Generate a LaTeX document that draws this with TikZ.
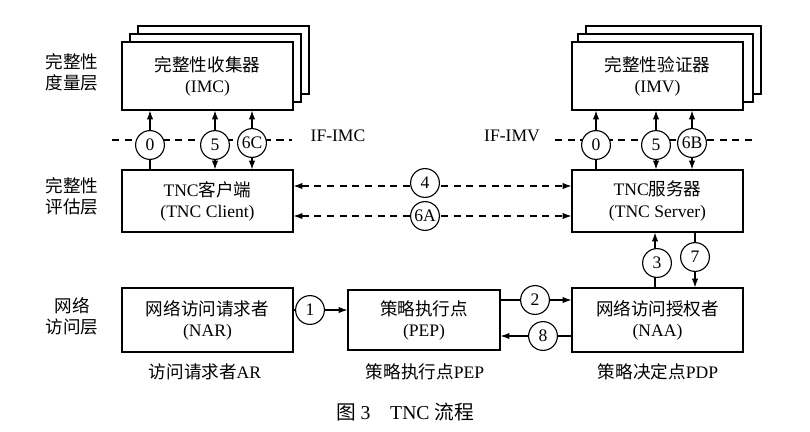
\documentclass[tikz,border=0pt]{standalone}
\usepackage{fontspec}
\setmainfont{Liberation Serif}
\newfontfamily\cjk{Noto Sans CJK SC}
\usetikzlibrary{arrows.meta}
\begin{document}
\begin{tikzpicture}[x=0.25mm,y=-0.25mm,font=\fontsize{12.5}{15}\selectfont,
 box/.style={draw,thick,fill=white,minimum width=42.75mm,minimum height=16mm,align=center,inner sep=1pt},
 sbox/.style={draw,thick,fill=white,minimum width=38mm,minimum height=15mm,align=center,inner sep=1pt},
 num/.style={draw,thick,circle,fill=white,inner sep=1pt,minimum size=7.2mm},
 lay/.style={align=center,font=\cjk\fontsize{12.5}{15}\selectfont},
 arr/.style={thick,-{Latex[length=2.2mm,width=1.6mm]}},
 darr/.style={thick,{Latex[length=2.2mm,width=1.6mm]}-{Latex[length=2.2mm,width=1.6mm]}},
 ds/.style={dash pattern=on 5pt off 4pt},
 ddarr/.style={darr,ds}]
\useasboundingbox (0,0) rectangle (810,431);
% layer labels
\node[lay] (l1) at (72,72) {完整性\\度量层};
\node[lay] (l2) at (72,196) {完整性\\评估层};
\node[lay] (l3) at (72,316) {网络\\访问层};
% stacked boxes
\foreach \d in {16,8}{
 \draw[thick,fill=white] (122+\d,42-\d) rectangle (293+\d,110-\d);
 \draw[thick,fill=white] (570+\d,42-\d) rectangle (745+\d,110-\d);}
\node[box,minimum height=17mm] (imc) at (207.5,76) {{\cjk 完整性收集器}\\(IMC)};
\node[box,minimum height=17mm] (imv) at (657.5,76) {{\cjk 完整性验证器}\\(IMV)};
\node[box,minimum height=15.5mm] (cli) at (207.5,201) {TNC{\cjk 客户端}\\(TNC Client)};
\node[box,minimum height=15.5mm] (srv) at (657.5,201) {TNC{\cjk 服务器}\\(TNC Server)};
\node[box] (nar) at (207.5,320) {{\cjk 网络访问请求者}\\(NAR)};
\node[sbox] (pep) at (424,320) {{\cjk 策略执行点}\\(PEP)};
\node[box] (naa) at (657.5,320) {{\cjk 网络访问授权者}\\(NAA)};
% interface lines
\coordinate (a1) at (112,140); \coordinate (a2) at (292,140);
\coordinate (b1) at (555,140); \coordinate (b2) at (752,140);
\draw[thick,ds] (a1) -- (a2); \draw[thick,ds] (b1) -- (b2);
\node (ifc) at (338,136) {IF-IMC};
\node (ifv) at (512,136) {IF-IMV};
% vertical arrows left
\draw[arr] (cli.north-|150,0) -- (imc.south-|150,0);
\draw[darr] (cli.north-|215,0) -- (imc.south-|215,0);
\draw[darr] (cli.north-|252,0) -- (imc.south-|252,0);
\node[num] (c0l) at (150,145) {0};
\node[num] (c5l) at (215,145) {5};
\node[num] (c6c) at (252,143) {6C};
% right
\draw[arr] (srv.north-|596,0) -- (imv.south-|596,0);
\draw[darr] (srv.north-|656,0) -- (imv.south-|656,0);
\draw[darr] (srv.north-|692,0) -- (imv.south-|692,0);
\node[num] (c0r) at (596,145) {0};
\node[num] (c5r) at (656,145) {5};
\node[num] (c6b) at (692,143) {6B};
% client-server
\draw[ddarr] (cli.east|-0,186) -- (srv.west|-0,186);
\draw[ddarr] (cli.east|-0,216) -- (srv.west|-0,216);
\node[num] (c4) at (425,183) {4};
\node[num] (c6a) at (425,216) {6A};
% server-naa
\draw[arr] (naa.north-|655,0) -- (srv.south-|655,0);
\draw[arr] (srv.south-|695,0) -- (naa.north-|695,0);
\node[num] (c3) at (657,263) {3};
\node[num] (c7) at (695,257) {7};
% bottom
\draw[arr] (nar.east|-0,310) -- (pep.west|-0,310);
\node[num] (c1) at (310,310) {1};
\draw[arr] (pep.east|-0,300) -- (naa.west|-0,300);
\node[num] (c2) at (535,300) {2};
\draw[arr] (naa.west|-0,336) -- (pep.east|-0,336);
\node[num] (c8) at (543,336) {8};
% captions
\node (t1) at (205,372) {{\cjk 访问请求者}AR};
\node (t2) at (425,372) {{\cjk 策略执行点}PEP};
\node (t3) at (658,372) {{\cjk 策略决定点}PDP};
\node[font=\fontsize{14}{16}\selectfont] (cap) at (405,412) {{\cjk 图} 3\quad TNC {\cjk 流程}};
\end{tikzpicture}
\end{document}
